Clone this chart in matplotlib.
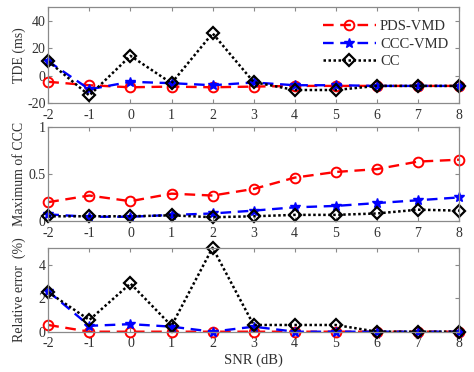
import numpy as np
import matplotlib
matplotlib.use('Agg')
import matplotlib.pyplot as plt

plt.rcParams['font.family'] = 'Liberation Serif'
plt.rcParams['axes.unicode_minus'] = False

# data
snr = [-2, -1, 0, 1, 2, 3, 4, 5, 6, 7, 8]

tde_pds = [-4.5, -7, -8.5, -8, -8.5, -8, -7.5, -7.5, -7.5, -7.5, -7.5]
tde_ccc = [10.5, -10, -4.5, -5.5, -7, -5, -7, -7, -7.5, -7.5, -7.5]
tde_cc = [10.5, -14.5, 14.5, -5.5, 31, -4.7, -10.5, -10.5, -7.5, -7.5, -7.5]

max_pds = [0.2, 0.27, 0.21, 0.29, 0.27, 0.34, 0.46, 0.52, 0.55, 0.63, 0.65]
max_ccc = [0.07, 0.045, 0.045, 0.064, 0.08, 0.11, 0.145, 0.16, 0.19, 0.22, 0.25]
max_cc = [0.05, 0.05, 0.05, 0.06, 0.04, 0.05, 0.065, 0.065, 0.08, 0.12, 0.11]

err_pds = [0.4, 0, 0, 0, 0, 0, 0, 0, 0, 0, 0]
err_ccc = [2.4, 0.35, 0.45, 0.3, 0, 0.3, 0, 0, 0, 0, 0]
err_cc = [2.35, 0.7, 2.87, 0.35, 5.0, 0.4, 0.4, 0.4, 0, 0, 0]

labels = ['PDS-VMD', 'CCC-VMD', 'CC']

TXT = '#303030'
SPINE = '#8a8a8a'

fig = plt.figure(figsize=(4.74, 3.72), dpi=100)

W = 474.0
H = 372.0
left = 48.3 / W
width = (459.0 - 48.3) / W
boxes = [(7.3, 103.0), (126.7, 221.0), (247.7, 331.7)]


def style_axis(ax, ylim, yticks, yticklabels):
    ax.set_xlim(-2, 8)
    ax.set_ylim(*ylim)
    ax.set_xticks(snr)
    ax.set_xticklabels([str(s) for s in snr])
    ax.set_yticks(yticks)
    ax.set_yticklabels(yticklabels)
    ax.tick_params(direction='in', top=True, right=True, length=3,
                   width=0.8, color=SPINE, labelsize=10, labelcolor=TXT)
    ax.tick_params(axis='x', pad=4)
    ax.tick_params(axis='y', pad=2)
    for s in ax.spines.values():
        s.set_color(SPINE)
        s.set_linewidth(0.9)
    ax.yaxis.set_label_coords(-0.054, 0.5)


def draw_series(ax, pds, ccc, cc):
    ax.plot(snr, pds, color='#ff0000', linestyle=(0, (4.5, 2.8)), lw=1.7,
            marker='o', ms=7, mfc='none', mec='#ff0000', mew=1.4,
            clip_on=False, label=labels[0])
    ax.plot(snr, ccc, color='#0000ff', linestyle=(0, (4.5, 2.8)), lw=1.7,
            marker='*', ms=7, mfc='#0000ff', mec='#0000ff', mew=1.0,
            clip_on=False, label=labels[1])
    ax.plot(snr, cc, color='black', linestyle=(0, (1, 1)), lw=1.8,
            marker='D', ms=6, mfc='none', mec='black', mew=1.6,
            clip_on=False, label=labels[2])


axes = []
for top, bot in boxes:
    ax = fig.add_axes([left, 1 - bot / H, width, (bot - top) / H])
    axes.append(ax)

ax1, ax2, ax3 = axes

draw_series(ax1, tde_pds, tde_ccc, tde_cc)
style_axis(ax1, (-20, 50), [-20, 0, 20, 40], ['-20', '0', '20', '40'])
ax1.set_ylabel('TDE (ms)', fontsize=10, color=TXT)
ax1.legend(loc='upper right', bbox_to_anchor=(0.995, 0.96), frameon=False,
           fontsize=10.5, handlelength=3.6, handletextpad=0.3,
           labelspacing=0.3, labelcolor=TXT, borderaxespad=0.2)

draw_series(ax2, max_pds, max_ccc, max_cc)
style_axis(ax2, (0, 1), [0, 0.5, 1], ['0', '0.5', '1'])
ax2.set_ylabel('Maximum of CCC', fontsize=10, color=TXT)

draw_series(ax3, err_pds, err_ccc, err_cc)
style_axis(ax3, (0, 5), [0, 2, 4], ['0', '2', '4'])
ax3.set_ylabel('Relative error  (%)', fontsize=10, color=TXT)
ax3.set_xlabel('SNR (dB)', fontsize=10.5, color=TXT, labelpad=2)

fig.savefig('out.png', dpi=100)
